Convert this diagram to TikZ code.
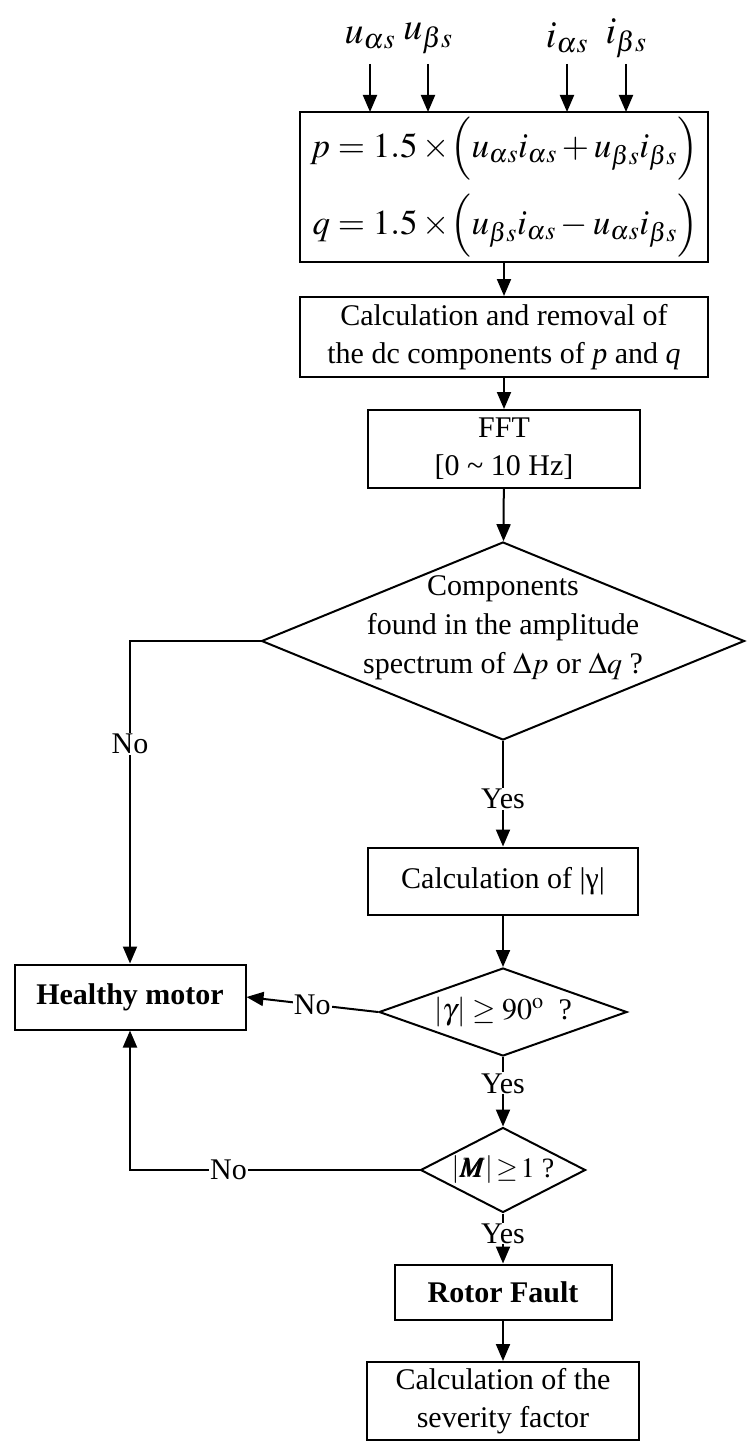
\documentclass[tikz,border=0pt]{standalone}
\usepackage{amsmath}
\usepackage{mathptmx}
\usepackage{bm}
\usepackage{fontspec}
\setmainfont{Liberation Serif}
\usetikzlibrary{arrows.meta,shapes.geometric,positioning}

\begin{document}
\begin{tikzpicture}[x=1pt,y=-1pt,
	box/.style={draw,line width=2pt,inner sep=0pt,align=center,font=\fontsize{30}{38}\selectfont},
	dia/.style={draw,line width=2pt,shape=diamond,inner sep=0pt},
	lbl/.style={fill=white,inner sep=1pt,font=\fontsize{30}{36}\selectfont},
	txt/.style={align=center,font=\fontsize{30}{39}\selectfont},
	arr/.style={line width=2pt,-{Triangle[length=17pt,width=14pt]}},
	ln/.style={line width=2pt}]
	\useasboundingbox (0,0) rectangle (753,1450);

	% inputs
	\foreach \n/\x/\t in {ua/370/u_{\alpha s},ub/428/u_{\beta s},ia/567/i_{\alpha s},ib/626/i_{\beta s}}{
		\node[font=\fontsize{38}{42}\selectfont] (\n) at (\x,38) {$\t$};
		\coordinate (\n e) at (\x,112);
		\draw[arr] (\x,64) -- (\n e);
	}

	% power box
	\node[box,minimum width=408pt,minimum height=150pt] (pq) at (504,187)
		{\fontsize{35}{44}\selectfont
		$\begin{aligned}
			p&=1.5\times\!\Bigl(u_{\alpha s}i_{\alpha s}+u_{\beta s}i_{\beta s}\Bigr)\\[10pt]
			q&=1.5\times\!\Bigl(u_{\beta s}i_{\alpha s}-u_{\alpha s}i_{\beta s}\Bigr)
		\end{aligned}$};
	\node[box,minimum width=408pt,minimum height=80pt] (dc) at (504,337)
		{Calculation and removal of\\the dc components of \textit{p} and \textit{q}};
	\node[box,minimum width=272pt,minimum height=78pt] (fft) at (504,449)
		{FFT\\{[}0 \textasciitilde\ 10 Hz{]}};

	% decisions
	\node[dia,minimum width=483pt,minimum height=198pt] (d1) at (503,641) {};
	\node[txt] at (503,628) {Components\\found in the amplitude\\spectrum of $\Delta p$ or $\Delta q$ ?};
	\node[box,minimum width=270pt,minimum height=67pt] (gam) at (503,881) {Calculation of |γ|};
	\node[dia,minimum width=248pt,minimum height=88pt] (d2) at (503,1012) {};
	\node[txt] at (d2.center) {$\left|\gamma\right|\geq 90^{\mathrm{o}}$ \ ?};
	\node[dia,minimum width=165pt,minimum height=85pt] (d3) at (503,1170) {};
	\node[txt,font=\fontsize{28}{34}\selectfont] at (d3.center) {$\left|\bm{M}\right|\!\geq\! 1$ ?};

	% outcomes
	\node[box,minimum width=231pt,minimum height=65pt] (hm) at (130,997) {\bfseries Healthy motor};
	\node[box,minimum width=217pt,minimum height=55pt] (rf) at (503,1292) {\bfseries Rotor Fault};
	\node[box,minimum width=272pt,minimum height=78pt] (sev) at (503,1401)
		{Calculation of the\\severity factor};

	% connectors
	\draw[arr] (pq) -- (dc);
	\draw[arr] (dc) -- (fft);
	\draw[arr] (fft) -- (d1);
	\draw[arr] (d1.south) -- node[lbl,pos=0.55] {Yes} (gam);
	\draw[arr] (gam) -- (d2);
	\draw[arr] (d2.south) -- node[lbl,pos=0.38] {Yes} (d3.north);
	\draw[arr] (d3.south) -- node[lbl,pos=0.4] {Yes} (rf);
	\draw[arr] (rf) -- (sev);
	\draw[arr] (d1.west) -| node[lbl,pos=0.66] {No} (hm.north);
	\draw[arr] (d2.west) -- node[lbl,pos=0.5] {No} (hm.east);
	\draw[arr] (d3.west) -| node[lbl,pos=0.33] {No} (hm.south);
\end{tikzpicture}
\end{document}
